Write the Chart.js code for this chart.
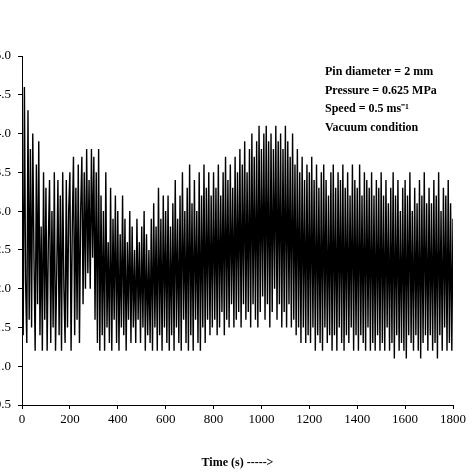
<!DOCTYPE html>
<html>
<head>
<script src="https://cdn.jsdelivr.net/npm/chart.js@4"></script>
<style>
body { margin: 0; background: #fff; overflow: hidden; }
#wrap { position: absolute; left: -42px; top: 0; width: 516px; height: 474px; }
</style>
</head>
<body>
<div id="wrap"><canvas id="c"></canvas></div>
<script>
var timeStep = 5;
var values = [
    3.9,1.4,4.6,2.1,1.3,4.3,1.6,3.8,1.5,4.0,2.4,1.2,3.6,1.8,3.9,1.4,2.8,1.2,3.5,1.6,
    3.3,1.2,2.6,3.4,1.3,3.0,1.5,3.5,1.2,2.2,3.4,1.4,3.2,1.2,3.5,2.0,1.3,3.4,1.5,3.0,
    3.5,1.2,2.8,3.7,1.4,3.3,1.6,3.6,1.3,3.0,3.7,1.8,3.5,2.0,3.8,2.2,3.4,2.0,3.8,2.4,
    3.7,1.6,3.5,1.3,3.8,1.2,3.2,1.4,3.0,1.2,3.5,1.5,2.6,1.3,3.3,1.2,2.9,1.6,3.2,1.3,
    3.0,1.2,2.7,1.5,3.2,1.4,2.9,1.2,2.6,1.6,3.0,1.3,2.8,1.5,2.5,1.3,2.9,1.6,2.6,1.3,
    2.8,1.5,3.0,1.2,2.7,1.4,2.5,1.3,2.9,1.2,3.1,1.5,2.8,1.2,3.3,1.4,2.9,1.2,3.2,1.5,
    3.0,1.3,3.2,1.2,2.8,1.4,3.1,1.2,3.4,1.5,2.9,1.3,3.2,1.2,3.5,1.6,3.0,1.3,3.3,1.2,
    3.6,1.4,3.1,1.2,3.4,1.6,3.0,1.3,3.5,1.2,3.2,1.5,3.6,1.3,3.3,1.6,3.5,1.4,3.2,1.5,
    3.5,1.6,3.3,1.4,3.6,1.5,3.2,1.7,3.5,1.4,3.7,1.6,3.4,1.5,3.6,1.8,3.3,1.5,3.7,1.6,
    3.5,1.7,3.8,1.5,3.6,1.8,3.9,1.6,3.5,1.7,3.8,1.5,4.0,1.8,3.7,1.6,3.9,1.5,4.1,1.7,
    3.8,1.9,4.0,1.6,4.1,1.8,3.9,1.5,4.0,1.7,3.8,2.0,4.1,1.6,3.9,1.8,4.0,1.5,3.8,1.7,
    4.1,1.5,3.9,1.8,3.7,1.5,4.0,1.6,3.6,1.4,3.8,1.5,3.5,1.3,3.7,1.5,3.4,1.3,3.6,1.4,
    3.5,1.3,3.7,1.5,3.4,1.2,3.6,1.4,3.3,1.3,3.5,1.2,3.6,1.5,3.4,1.3,3.2,1.4,3.5,1.2,
    3.6,1.4,3.3,1.2,3.5,1.5,3.4,1.3,3.6,1.2,3.3,1.4,3.5,1.3,3.2,1.5,3.6,1.2,3.4,1.4,
    3.3,1.2,3.6,1.4,3.2,1.3,3.5,1.2,3.4,1.5,3.3,1.2,3.5,1.3,3.2,1.2,3.4,1.4,3.3,1.2,
    3.5,1.3,3.2,1.2,3.4,1.5,3.1,1.2,3.3,1.3,3.5,1.1,3.2,1.4,3.4,1.2,3.0,1.3,3.3,1.2,
    3.4,1.1,3.2,1.4,3.5,1.3,3.0,1.2,3.3,1.4,3.1,1.2,3.4,1.1,3.2,1.3,3.5,1.4,3.1,1.2,
    3.3,1.4,3.1,1.2,3.4,1.3,3.2,1.1,3.5,1.4,3.0,1.2,3.3,1.5,3.2,1.2,3.4,1.3,3.1,1.2,
    2.9
];
var notes = ["Pin diameter = 2 mm", "Pressure = 0.625 MPa", "Speed = 0.5 ms\u207B\u00B9", "Vacuum condition"];

var points = values.map(function (v, i) { return { x: i * timeStep, y: v }; });

var notesPlugin = {
    id: 'notes',
    afterDraw: function (chart) {
        var ctx = chart.ctx;
        ctx.save();
        ctx.fillStyle = '#000';
        ctx.font = 'bold 12px "Liberation Serif"';
        ctx.textBaseline = 'middle';
        notes.forEach(function (t, i) {
            ctx.fillText(t, 367, 72 + i * 18.5);
        });
        ctx.restore();
    }
};

new Chart(document.getElementById('c'), {
    type: 'line',
    data: {
        datasets: [{
            data: points,
            borderColor: '#000',
            borderWidth: 1.4,
            pointRadius: 0,
            tension: 0
        }]
    },
    options: {
        responsive: true,
        maintainAspectRatio: false,
        animation: false,
        layout: { padding: { top: 56, right: 21 } },
        plugins: { legend: { display: false }, tooltip: { enabled: false } },
        scales: {
            x: {
                type: 'linear', min: 0, max: 1800,
                afterFit: function (s) { s.height = 69; },
                ticks: { stepSize: 200, color: '#000', font: { family: 'Liberation Serif', size: 13 }, callback: function (v) { return String(v); } },
                grid: { drawOnChartArea: false, color: '#000', tickLength: 4 },
                border: { color: '#000' },
                title: { display: true, text: 'Time (s) ----->', color: '#000', font: { family: 'Liberation Serif', size: 12, weight: 'bold' } }
            },
            y: {
                min: 0.5, max: 5.0,
                afterFit: function (s) { s.width = 64; },
                ticks: { stepSize: 0.5, padding: 7, color: '#000', font: { family: 'Liberation Serif', size: 13 }, callback: function (v) { return v.toFixed(1); } },
                grid: { drawOnChartArea: false, color: '#000', tickLength: 4 },
                border: { color: '#000' }
            }
        }
    },
    plugins: [notesPlugin]
});
</script>
</body>
</html>
